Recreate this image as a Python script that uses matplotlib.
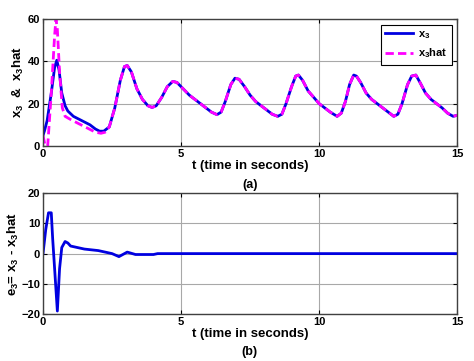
import numpy as np
import matplotlib.pyplot as plt

plt.rcParams['font.family'] = ['Liberation Sans', 'DejaVu Sans']
plt.rcParams['font.weight'] = 'bold'
plt.rcParams['mathtext.fontset'] = 'custom'
plt.rcParams['mathtext.rm'] = 'Liberation Sans:bold'
plt.rcParams['mathtext.bf'] = 'Liberation Sans:bold'
plt.rcParams['mathtext.it'] = 'Liberation Sans:bold'
plt.rcParams['mathtext.default'] = 'bf'

# x3 (solid) and x3hat (dashed) agree after t ~ 2.3 s
t_tail = [2.4, 2.6, 2.8, 2.95, 3.05, 3.2, 3.4, 3.6, 3.8, 3.95, 4.1, 4.3, 4.5,
          4.7, 4.85, 5.0, 5.3, 5.6, 5.9, 6.1, 6.3, 6.45, 6.6, 6.8, 6.95, 7.1,
          7.3, 7.5, 7.7, 7.9, 8.1, 8.3, 8.5, 8.65, 8.8, 9.0, 9.15, 9.25, 9.4,
          9.6, 9.8, 10.0, 10.2, 10.4, 10.65, 10.8, 10.95, 11.1, 11.25, 11.35,
          11.5, 11.7, 11.9, 12.1, 12.3, 12.5, 12.7, 12.85, 13.0, 13.2, 13.35,
          13.5, 13.65, 13.85, 14.05, 14.25, 14.45, 14.65, 14.85, 15.0]
v_tail = [9, 18, 31, 37.5, 38, 35, 27, 22, 19, 18.2, 19, 23, 28,
          30.5, 30, 28, 24, 21, 18, 16, 14.8, 16, 21, 29, 32, 31.5,
          28, 24, 21, 19, 17, 15, 14, 15, 20, 28, 33, 33.5, 31,
          26, 23, 20, 18, 16, 14, 15.5, 21, 29, 33.5, 33,
          30, 25, 22, 20, 18, 16, 14, 15, 20, 29, 33,
          33.5, 30, 25, 22, 20, 18, 15.5, 14, 14.5]

t_x3_head = [0, 0.05, 0.15, 0.3, 0.42, 0.5, 0.58, 0.68, 0.8, 0.9, 1.1, 1.4,
             1.7, 1.9, 2.05, 2.2]
x3_head = [5, 7, 12, 25, 37, 40.5, 36, 25, 19, 16.5, 14, 12, 10, 8, 7, 7]

t_x3hat_head = [0, 0.08, 0.17, 0.3, 0.42, 0.47, 0.52, 0.6, 0.7, 0.8, 1.0,
                1.3, 1.6, 1.9, 2.1, 2.25]
x3hat_head = [5, 0, 0, 25, 52, 60, 55, 35, 18, 14, 12.5, 10.5, 8.5, 6.5, 6,
              6.5]

t_x3 = t_x3_head + t_tail
x3 = x3_head + v_tail
t_x3hat = t_x3hat_head + t_tail
x3hat = x3hat_head + v_tail

# error e3 = x3 - x3hat
t_e3 = [0, 0.1, 0.2, 0.3, 0.35, 0.52, 0.6, 0.68, 0.8, 0.9, 1.0, 1.5, 2.0,
        2.5, 2.75, 3.05, 3.35, 4.0, 4.15, 15]
e3 = [0, 8, 13.5, 13.5, 5, -19, -5, 2, 4, 3.5, 2.5, 1.5, 1, 0, -1, 0.5,
      -0.3, -0.3, 0, 0]

fig = plt.figure(figsize=(4.74, 3.61), dpi=100)
ax1 = fig.add_axes([0.0907, 0.5956, 0.874, 0.352])
ax2 = fig.add_axes([0.0907, 0.130, 0.874, 0.335])

blue = '#0000e0'
mag = '#ff00ff'

ax1.plot(t_x3, x3, color=blue, lw=2, label='x$_3$')
ax1.plot(t_x3hat, x3hat, color=mag, lw=2, ls=(0, (3, 1.5)), label='x$_3$hat')
ax1.set_ylim(0, 60)
ax1.set_yticks([0, 20, 40, 60])
ax1.set_ylabel('x$_3$  &  x$_3$hat', fontsize=9.5, fontweight='bold',
               labelpad=1)
ax1.set_xlabel('t (time in seconds)', fontsize=9.5, fontweight='bold',
               labelpad=1)
leg = ax1.legend(loc='upper right', bbox_to_anchor=(0.988, 0.955),
                 fontsize=8, fancybox=False, edgecolor='black',
                 framealpha=1, handlelength=2.5, handletextpad=0.5,
                 borderaxespad=0)
leg.get_frame().set_linewidth(0.8)

ax2.plot(t_e3, e3, color=blue, lw=2)
ax2.set_ylim(-20, 20)
ax2.set_yticks([-20, -10, 0, 10, 20])
ax2.set_ylabel('e$_3$= x$_3$ - x$_3$hat', fontsize=9.5, fontweight='bold',
               labelpad=0)
ax2.set_xlabel('t (time in seconds)', fontsize=9.5, fontweight='bold',
               labelpad=1)

for ax in (ax1, ax2):
    ax.set_xlim(0, 15)
    ax.set_xticks([0, 5, 10, 15])
    ax.grid(True, color='#a8a8a8', lw=0.8)
    ax.set_axisbelow(True)
    ax.tick_params(direction='in', top=True, right=True, labelsize=8,
                   length=3, width=0.8, pad=2)
    for lab in ax.get_xticklabels() + ax.get_yticklabels():
        lab.set_fontweight('bold')
    for sp in ax.spines.values():
        sp.set_color('#404040')
        sp.set_linewidth(1)

fig.text(0.527, 1 - 185 / 361, '(a)', ha='center', va='center', fontsize=9,
         fontweight='bold')
fig.text(0.527, 1 - 352 / 361, '(b)', ha='center', va='center', fontsize=9,
         fontweight='bold')

fig.savefig('out.png', dpi=100)
